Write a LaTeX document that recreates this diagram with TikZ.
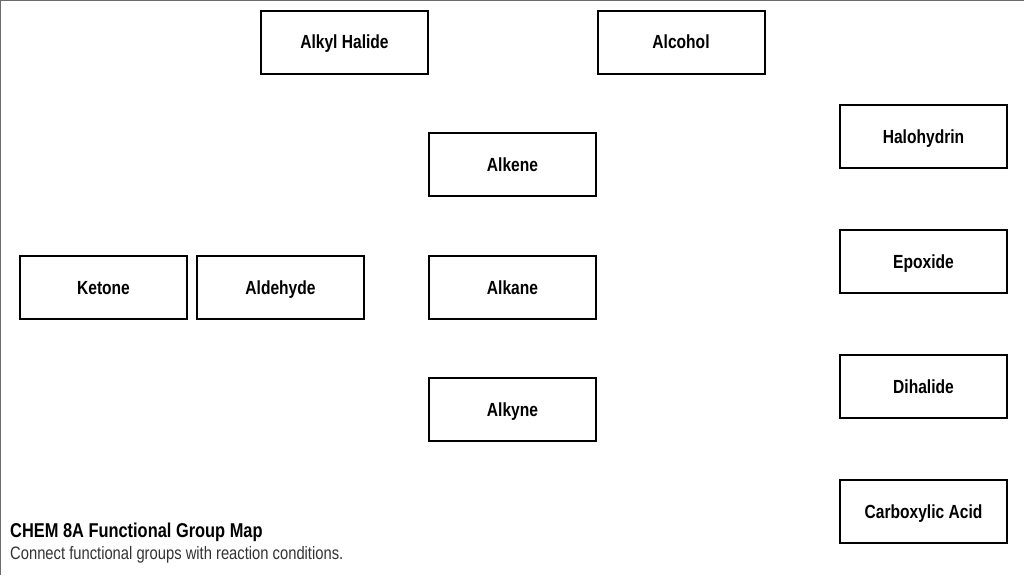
\documentclass[tikz,border=0pt]{standalone}
\usepackage{fontspec}
\setmainfont[FakeStretch=0.82]{Liberation Sans}
\usepackage{tikz}

\tikzset{
    group/.style={draw=black, line width=2pt, minimum width=167pt, minimum height=63pt,
        font=\fontsize{19}{22}\selectfont\bfseries, inner sep=0pt, text height=13pt, text depth=0pt},
}

\begin{document}
\begin{tikzpicture}[x=1pt, y=-1pt]
    \useasboundingbox (0,0) rectangle (1024,575);
    \draw[line width=2pt, gray!85!black] (0,575) -- (0,0) -- (1024,0);
    % top row
    \node[group] (alkylhalide) at (344.5,42.5) {Alkyl Halide};
    \node[group] (alcohol) at (681,42.5) {Alcohol};
    % middle column
    \node[group] (alkene) at (512.5,164.5) {Alkene};
    \node[group] (alkane) at (512.5,287.5) {Alkane};
    \node[group] (alkyne) at (512.5,409.5) {Alkyne};
    % left
    \node[group] (ketone) at (103.5,287.5) {Ketone};
    \node[group] (aldehyde) at (280.5,287.5) {Aldehyde};
    % right column
    \node[group] (halohydrin) at (923.5,136.5) {Halohydrin};
    \node[group] (epoxide) at (923.5,261.5) {Epoxide};
    \node[group] (dihalide) at (923.5,386.5) {Dihalide};
    \node[group] (acid) at (923.5,511.5) {Carboxylic Acid};
    % caption
    \node[anchor=base west, inner sep=0pt, font=\fontsize{20}{24}\selectfont\bfseries] (title) at (10,537) {CHEM 8A Functional Group Map};
    \node[anchor=base west, inner sep=0pt, font=\fontsize{18}{22}\selectfont, text=black!80] (subtitle) at (10,559) {Connect functional groups with reaction conditions.};
\end{tikzpicture}
\end{document}
